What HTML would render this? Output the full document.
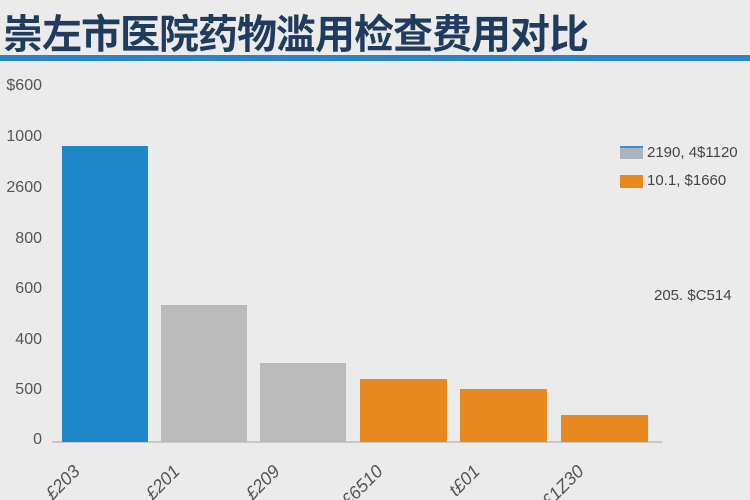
<!DOCTYPE html>
<html><head><meta charset="utf-8"><style>
html,body{margin:0;width:750px;height:500px;overflow:hidden}
body{background:#ebebeb;position:relative;font-family:"Liberation Sans","Noto Sans CJK SC",sans-serif}
.t{position:absolute;left:3px;top:2px;font-size:40px;font-weight:bold;color:#1f3b5e;letter-spacing:-1px;white-space:nowrap}
.ln{position:absolute;left:0;top:55px;width:750px;height:6px;background:#2a84c6}
.y{position:absolute;font-size:16px;color:#555;text-align:right;width:42px;left:0}
.b{position:absolute;}
.x{position:absolute;font-size:18px;color:#555;transform:rotate(-45deg);transform-origin:right center;white-space:nowrap;font-style:italic}
.lg{position:absolute;font-size:15px;color:#444}
</style></head><body>
<div class="t">崇左市医院药物滥用检查费用对比</div>
<div class="ln"></div>
<div class="y" style="top:77px">$600</div>
<div class="y" style="top:128px">1000</div>
<div class="y" style="top:179px">2600</div>
<div class="y" style="top:230px">800</div>
<div class="y" style="top:280px">600</div>
<div class="y" style="top:331px">400</div>
<div class="y" style="top:381px">500</div>
<div class="y" style="top:431px">0</div>
<div class="b" style="left:52px;top:441px;width:610px;height:2px;background:#c8c8c8"></div>
<div class="b" style="left:62px;top:146px;width:86px;height:296px;background:#1e87c8"></div>
<div class="b" style="left:161px;top:305px;width:86px;height:137px;background:#bbb"></div>
<div class="b" style="left:260px;top:363px;width:86px;height:79px;background:#bbb"></div>
<div class="b" style="left:360px;top:379px;width:87px;height:63px;background:#e8891f"></div>
<div class="b" style="left:460px;top:389px;width:87px;height:53px;background:#e8891f"></div>
<div class="b" style="left:561px;top:415px;width:87px;height:27px;background:#e8891f"></div>
<div class="x" style="left:37px;top:458px">£203</div>
<div class="x" style="left:137px;top:458px">£201</div>
<div class="x" style="left:237px;top:458px">£209</div>
<div class="x" style="left:330px;top:458px">£6510</div>
<div class="x" style="left:442px;top:458px">t£01</div>
<div class="x" style="left:530px;top:458px">£1Z30</div>
<div class="b" style="left:620px;top:146px;width:23px;height:13px;background:#aab4be;border-top:2px solid #3d8fd0;box-sizing:border-box"></div>
<div class="lg" style="left:647px;top:144px">2190, 4$1120</div>
<div class="b" style="left:620px;top:175px;width:23px;height:13px;background:#e8891f"></div>
<div class="lg" style="left:647px;top:172px">10.1, $1660</div>
<div class="lg" style="left:654px;top:287px">205. $C514</div>
</body></html>
